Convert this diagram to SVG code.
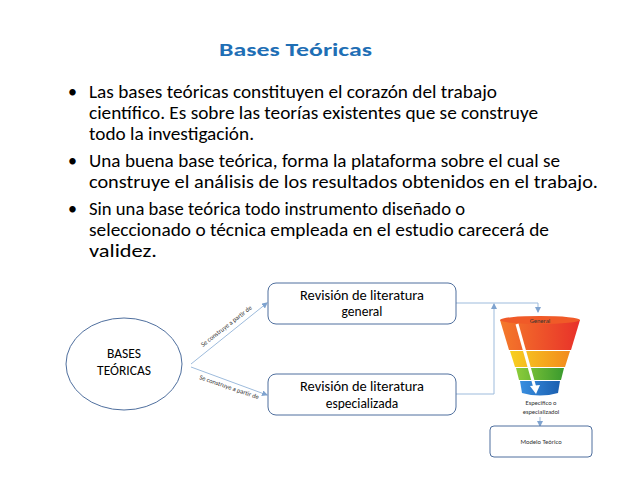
<svg xmlns="http://www.w3.org/2000/svg" width="638" height="493" viewBox="0 0 638 493">
<style>
.b{font-family:Carlito,Calibri,"Liberation Sans",sans-serif;font-size:18px;fill:#000}
.n{font-family:Carlito,Calibri,"Liberation Sans",sans-serif;font-size:13.5px;fill:#000;text-anchor:middle}
.s{font-family:Carlito,"Liberation Sans",sans-serif;font-size:6.5px;fill:#333}
.c{fill:none;stroke:#9dbbdc;stroke-width:1}
.box{fill:#fff;stroke:#4f6f9e;stroke-width:1}
</style>
<defs>
<marker id="a" markerWidth="6" markerHeight="6" refX="5" refY="3" orient="auto" markerUnits="userSpaceOnUse"><path d="M0,0L6,3L0,6z" fill="#7fa3cf"/></marker>
<linearGradient id="r" x1="0" x2="1"><stop offset="0" stop-color="#f47a2a"/><stop offset="1" stop-color="#e8302a"/></linearGradient>
<linearGradient id="o" x1="0" x2="1"><stop offset="0" stop-color="#f7d020"/><stop offset="1" stop-color="#f28a1c"/></linearGradient>
<linearGradient id="g" x1="0" x2="1"><stop offset="0" stop-color="#8ccc3a"/><stop offset="1" stop-color="#3a9a2e"/></linearGradient>
<linearGradient id="bl" x1="0" x2="1"><stop offset="0" stop-color="#3a8fe0"/><stop offset="1" stop-color="#1a5fb0"/></linearGradient>
</defs>
<rect width="638" height="493" fill="#fff"/>
<text x="219" y="56" textLength="153" lengthAdjust="spacingAndGlyphs" font-family="Carlito,Calibri,'Liberation Sans',sans-serif" font-size="19" font-weight="bold" fill="#1f6fb5">Bases Teóricas</text>
<g class="b">
<text x="68" y="98">•</text><text x="89" y="98" textLength="408" lengthAdjust="spacingAndGlyphs">Las bases teóricas constituyen el corazón del trabajo</text>
<text x="89" y="119" textLength="449" lengthAdjust="spacingAndGlyphs">científico. Es sobre las teorías existentes que se construye</text>
<text x="89" y="140" textLength="165" lengthAdjust="spacingAndGlyphs">todo la investigación.</text>
<text x="68" y="167">•</text><text x="89" y="167" textLength="471" lengthAdjust="spacingAndGlyphs">Una buena base teórica, forma la plataforma sobre el cual se</text>
<text x="89" y="188" textLength="509" lengthAdjust="spacingAndGlyphs">construye el análisis de los resultados obtenidos en el trabajo.</text>
<text x="68" y="215">•</text><text x="89" y="215" textLength="376" lengthAdjust="spacingAndGlyphs">Sin una base teórica todo instrumento diseñado o</text>
<text x="89" y="236" textLength="460" lengthAdjust="spacingAndGlyphs">seleccionado o técnica empleada en el estudio carecerá de</text>
<text x="89" y="257" textLength="68" lengthAdjust="spacingAndGlyphs">validez.</text>
</g>
<g id="connectors">
<path class="c" d="M191,364L267,303" marker-end="url(#a)"/>
<path class="c" d="M191,367L267,395" marker-end="url(#a)"/>
<path class="c" d="M456,303H538V312" marker-end="url(#a)"/>
<path class="c" d="M456,394H494V304" marker-end="url(#a)"/>
<path class="c" d="M540,417V426" marker-end="url(#a)"/>
<text class="s" transform="translate(203,347) rotate(-38)">Se construye a partir de</text>
<text class="s" transform="translate(199,379) rotate(19)">Se construye a partir de</text>
</g>
<g id="bases">
<ellipse cx="124" cy="364" rx="58" ry="46" fill="#fff" stroke="#4f6f9e"/>
<text class="n" x="124" y="358">BASES</text>
<text class="n" x="124" y="375">TEÓRICAS</text>
</g>
<g id="general">
<rect class="box" x="268" y="283" width="188" height="41" rx="8"/>
<text class="n" x="362" y="300" textLength="124" lengthAdjust="spacingAndGlyphs">Revisión de literatura</text>
<text class="n" x="362" y="316">general</text>
</g>
<g id="especializada">
<rect class="box" x="268" y="374" width="188" height="41" rx="8"/>
<text class="n" x="362" y="391" textLength="124" lengthAdjust="spacingAndGlyphs">Revisión de literatura</text>
<text class="n" x="362" y="408">especializada</text>
</g>
<g id="funnel">
<path d="M500,320L509,350H571L580,320z" fill="url(#r)"/>
<ellipse cx="540" cy="320" rx="40" ry="4" fill="#f05a28"/>
<path d="M510,351L515,367H565L570,351z" fill="url(#o)"/>
<path d="M516,368L519,380H561L564,368z" fill="url(#g)"/>
<path d="M520,381L522,393Q540,398 558,393L560,381z" fill="url(#bl)"/>
<path d="M517,324L535,388" stroke="#fff" stroke-width="3"/>
<path d="M530,386L536,394L540,385z" fill="#fff"/>
<text class="s" x="540" y="323" text-anchor="middle" fill="#000">General</text>
<text class="s" x="541" y="405" text-anchor="middle">Especifico o</text>
<text class="s" x="541" y="414" text-anchor="middle">especializadol</text>
</g>
<g id="modelo">
<rect class="box" x="490" y="426" width="102" height="31" rx="4"/>
<text class="s" x="541" y="444" text-anchor="middle" font-size="7">Modelo Teórico</text>
</g>
</svg>
